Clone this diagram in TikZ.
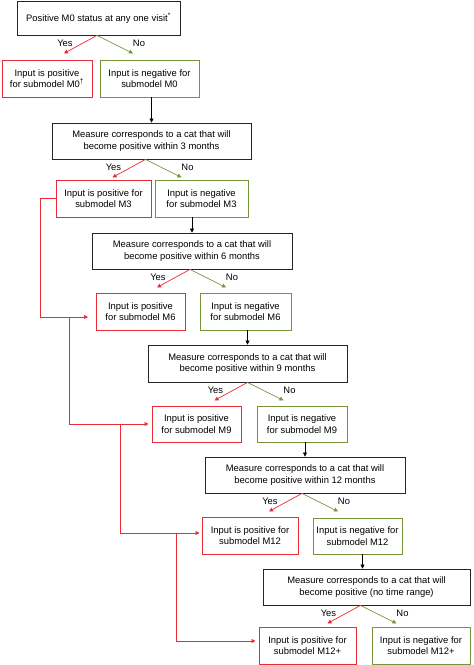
\documentclass[tikz,border=0pt]{standalone}
\usepackage{fontspec}
\setsansfont{Liberation Sans}
\usetikzlibrary{arrows.meta}
\definecolor{posred}{RGB}{232,45,55}
\definecolor{neggreen}{RGB}{119,147,60}

\begin{document}
\begin{tikzpicture}[x=1pt,y=-1pt,font=\sffamily\fontsize{9.4}{11.5}\selectfont,>={Triangle[length=4pt,width=4pt]}]
    \tikzstyle{question}=[draw=black!85,line width=0.8pt,minimum width=199pt,minimum height=36pt,align=center,inner sep=0pt]
    \tikzstyle{posbox}=[draw=posred,line width=1pt,minimum height=37pt,align=center,inner sep=0pt]
    \tikzstyle{negbox}=[draw=neggreen,line width=0.8pt,minimum height=37pt,align=center,inner sep=0pt]
    \tikzstyle{yesarrow}=[->,draw=posred,line width=0.7pt]
    \tikzstyle{noarrow}=[->,draw=neggreen,line width=0.7pt]
    \tikzstyle{nextarrow}=[->,draw=black,line width=0.6pt]
    \tikzstyle{redpath}=[->,draw=posred,line width=0.8pt]
    \tikzstyle{answer}=[inner sep=0pt,above=6.5pt]

    \useasboundingbox (0,0) rectangle (474,665);

    % questions
    \node[question,minimum width=163pt,minimum height=34pt] (q0) at (98.5,18) {Positive M0 status at any one visit\textsuperscript{*}};
    \node[question] (q3) at (151.5,141) {Measure corresponds to a cat that will\\become positive within 3 months};
    \node[question,minimum width=200pt] (q6) at (192,251) {Measure corresponds to a cat that will\\become positive within 6 months};
    \node[question,minimum height=37pt] (q9) at (247.5,363.5) {Measure corresponds to a cat that will\\become positive within 9 months};
    \node[question,minimum width=200pt] (q12) at (305,475) {Measure corresponds to a cat that will\\become positive within 12 months};
    \node[question,minimum width=207pt] (qp) at (366.5,587) {Measure corresponds to a cat that will\\become positive (no time range)};

    % positive outcomes
    \node[posbox,minimum width=90pt] (p0) at (47,78.5) {Input is positive\\for submodel M0\textsuperscript{†}};
    \node[posbox,minimum width=95pt] (p3) at (103.5,198.5) {Input is positive for\\submodel M3};
    \node[posbox,minimum width=89pt] (p6) at (140.5,311.5) {Input is positive\\for submodel M6};
    \node[posbox,minimum width=89pt,minimum height=36pt] (p9) at (196.5,424) {Input is positive\\for submodel M9};
    \node[posbox,minimum width=96pt] (p12) at (250,535.5) {Input is positive for\\submodel M12};
    \node[posbox,minimum width=97pt] (pp) at (307.5,645.5) {Input is positive for\\submodel M12+};

    % negative outcomes
    \node[negbox,minimum width=99pt] (n0) at (149.5,78.5) {Input is negative for\\submodel M0};
    \node[negbox,minimum width=93pt] (n3) at (201.5,198.5) {Input is negative\\for submodel M3};
    \node[negbox,minimum width=91pt] (n6) at (245.5,311.5) {Input is negative\\for submodel M6};
    \node[negbox,minimum width=90pt,minimum height=36pt] (n9) at (302,424) {Input is negative\\for submodel M9};
    \node[negbox,minimum width=89pt,minimum height=36pt] (n12) at (357.5,536) {Input is negative for\\submodel M12};
    \node[negbox,minimum width=98pt] (np) at (421,645.5) {Input is negative for\\submodel M12+};

    % yes / no
    \draw[yesarrow] ([xshift=-1.5pt]q0.south) -- ++(-33,18) node[answer,xshift=1pt]{Yes};
    \draw[noarrow] ([xshift=-1.5pt]q0.south) -- ++(36,18) node[answer,xshift=6pt]{No};
    \draw[yesarrow] ([xshift=-6pt]q3.south) -- ++(-33,18) node[answer,xshift=1pt]{Yes};
    \draw[noarrow] ([xshift=-6pt]q3.south) -- ++(36,18) node[answer,xshift=6pt]{No};
    \draw[yesarrow] ([xshift=-2pt]q6.south) -- ++(-33,18) node[answer,xshift=1pt]{Yes};
    \draw[noarrow] ([xshift=-2pt]q6.south) -- ++(36,18) node[answer,xshift=6pt]{No};
    \draw[yesarrow] (q9.south) -- ++(-33,18) node[answer,xshift=1pt]{Yes};
    \draw[noarrow] (q9.south) -- ++(36,18) node[answer,xshift=6pt]{No};
    \draw[yesarrow] ([xshift=-3pt]q12.south) -- ++(-33,18) node[answer,xshift=1pt]{Yes};
    \draw[noarrow] ([xshift=-3pt]q12.south) -- ++(36,18) node[answer,xshift=6pt]{No};
    \draw[yesarrow] ([xshift=-6pt]qp.south) -- ++(-33,18) node[answer,xshift=1pt]{Yes};
    \draw[noarrow] ([xshift=-6pt]qp.south) -- ++(36,18) node[answer,xshift=6pt]{No};

    % next question
    \draw[nextarrow] (n0.south -| q3.north) -- (q3.north);
    \draw[nextarrow] (n3.south -| q6.north) -- (q6.north);
    \draw[nextarrow] (n6.south -| q9.north) -- (q9.north);
    \draw[nextarrow] (n9.south -| q12.north) -- (q12.north);
    \draw[nextarrow] ([xshift=-4pt]n12.south -| qp.north) -- ([xshift=-4pt]qp.north);

    % positive stays positive
    \coordinate (j6) at (40,317);
    \coordinate (j9) at (69,424);
    \coordinate (j12) at (120,533);
    \coordinate (jp) at (176,641);
    \draw[redpath,shorten >=7.5pt] (p3.west) -| (j6) -- (j6 -| p6.west);
    \draw[redpath,shorten >=3pt] (j6 -| j9) -- (j9) -- (j9 -| p9.west);
    \draw[redpath,shorten >=2pt] (j9 -| j12) -- (j12) -- (j12 -| p12.west);
    \draw[redpath,shorten >=3pt] (j12 -| jp) -- (jp) -- (jp -| pp.west);
\end{tikzpicture}
\end{document}
